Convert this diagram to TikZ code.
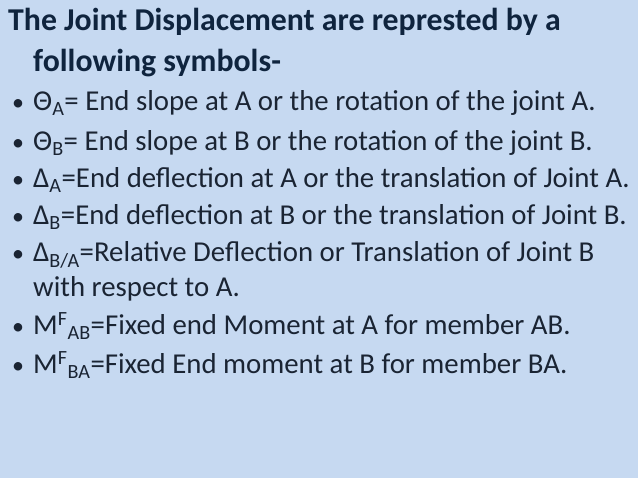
\documentclass[tikz,border=0pt]{standalone}
\usepackage{fontspec}
\setmainfont{Carlito}
\definecolor{bg}{HTML}{C6D9F1}
\definecolor{ttl}{HTML}{0F243E}
\definecolor{bod}{HTML}{1A2433}
\begin{document}
\begin{tikzpicture}[x=1pt,y=1pt,
  ttlstyle/.style={anchor=base west,inner sep=0,text=ttl,font=\fontsize{31.8}{34}\selectfont\bfseries},
  bul/.style={anchor=base west,inner sep=0,text=bod,font=\fontsize{28.8}{33}\selectfont},
  dot/.style={anchor=base west,inner sep=0,text=bod,font=\fontsize{24}{33}\selectfont}]
\fill[bg] (0,0) rectangle (638,-478);
\useasboundingbox (0,0) rectangle (638,-478);
\node[ttlstyle] (t1) at (8,-31) {The Joint Displacement are represted by a};
\node[ttlstyle] (t2) at (33,-72) {following symbols-};
\foreach \y/\n/\txt in {
 -111/l1/{Θ\textsubscript{A}= End slope at A or the rotation of the joint A.},
 -151/l2/{Θ\textsubscript{B}= End slope at B or the rotation of the joint B.},
 -188/l3/{Δ\textsubscript{A}=End deflection at A or the translation of Joint A.},
 -225/l4/{Δ\textsubscript{B}=End deflection at B or the translation of Joint B.},
 -262/l5/{Δ\textsubscript{B/A}=Relative Deflection or Translation of Joint B},
 -335/l6/{M\textsuperscript{F}\textsubscript{AB}=Fixed end Moment at A for member AB.},
 -374/l7/{M\textsuperscript{F}\textsubscript{BA}=Fixed End moment at B for member BA.}}
{
 \node[bul] (\n) at (33,\y) {\txt};
 \node[dot] (d\n) at (12,\y) {•};
}
\node[bul] (l5b) at (33,-297) {with respect to A.};
\end{tikzpicture}
\end{document}
